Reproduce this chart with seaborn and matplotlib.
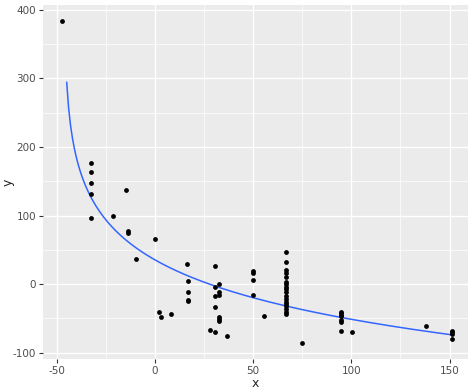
import numpy as np
import pandas as pd
import matplotlib
matplotlib.use("Agg")
import matplotlib.pyplot as plt
import seaborn as sns

# -------------------- data --------------------
x_vals = [-47.5,
          -32.6, -32.6, -32.6, -32.6, -32.6,
          -21.5, -14.8, -13.7, -13.7, -9.8,
          0.2, 2.2, 3.1, 8.0,
          16.5, 17, 17, 17, 17,
          27.8,
          30.7, 30.7, 30.7, 30.7, 30.7,
          32.7, 32.7, 32.7, 32.7, 32.7, 32.7,
          36.8,
          49.7, 49.7, 49.7, 49.7,
          55.6,
          66.7, 66.7, 66.7, 66.7, 66.7, 66.7, 66.7, 66.7, 66.7,
          66.7, 66.7, 66.7, 66.7, 66.7, 66.7, 66.7, 66.7, 66.7,
          74.6,
          94.5, 94.5, 94.5, 94.5, 94.5, 94.5, 94.5,
          100.1, 137.9,
          151, 151, 151, 151]
y_vals = [384,
          176, 163, 147, 132, 97,
          100, 137.5, 77, 75, 37,
          65.5, -41, -47.5, -44,
          30, 4.5, -11, -22.5, -24,
          -66.5,
          27, -4.5, -17, -34, -69.5,
          0.5, -11.5, -15.5, -48.5, -50.5, -53.5,
          -76,
          19.5, 16, 5.5, -15.5,
          -47,
          47.5, 33, 20, 16, 11, 3, 0, -3.5, -7.5,
          -11, -18, -21, -25.5, -28.5, -32.5, -36.5, -40, -43.5,
          -86,
          -40, -42.5, -45, -47, -52, -54.5, -68,
          -70.5, -61,
          -68, -70.5, -73, -80]

df = pd.DataFrame({"x": x_vals, "y": y_vals})

# log fit y ~ log(x + shift), like the smooth in the original
shift = 46.5
curve_start = -45
fit_df = df[df["x"] + shift > 0]
b, a = np.polyfit(np.log(fit_df["x"] + shift), fit_df["y"], 1)
curve_x = np.linspace(curve_start, df["x"].max(), 200)
curve = pd.DataFrame({"x": curve_x, "y": a + b * np.log(curve_x + shift)})

# -------------------- ggplot-ish look --------------------
sns.set_theme(style="darkgrid", rc={
    "axes.facecolor": "#EBEBEB",
    "grid.color": "white",
    "axes.edgecolor": "#EBEBEB",
    "xtick.color": "#4D4D4D",
    "ytick.color": "#4D4D4D",
    "xtick.labelcolor": "#4D4D4D",
    "ytick.labelcolor": "#4D4D4D",
    "xtick.bottom": True,
    "ytick.left": True,
    "axes.unicode_minus": False,
})

fig = plt.figure(figsize=(4.74, 3.9), dpi=100)
ax = fig.add_axes([0.091, 0.080, 0.896, 0.907])

sns.scatterplot(data=df, x="x", y="y", color="black", s=12, linewidth=0, ax=ax, zorder=3)
sns.lineplot(data=curve, x="x", y="y", color="#3366FF", linewidth=1.1, ax=ax, zorder=2)

ax.set_xlim(-57, 159.3)
ax.set_ylim(-108.9, 407)
ax.set_xticks([-50, 0, 50, 100, 150])
ax.set_yticks([-100, 0, 100, 200, 300, 400])
ax.set_xticks([-25, 25, 75, 125], minor=True)
ax.set_yticks([-50, 50, 150, 250, 350], minor=True)
ax.grid(which="major", color="white", linewidth=1.0)
ax.grid(which="minor", color="white", linewidth=0.5)
ax.tick_params(which="major", length=3, width=0.8, color="#333333", labelsize=7.5, pad=2)
ax.tick_params(which="minor", length=0)
ax.set_xlabel("x", fontsize=9, labelpad=1)
ax.set_ylabel("y", fontsize=9)
ax.yaxis.set_label_coords(-0.068, 0.5)
for s in ax.spines.values():
    s.set_visible(False)

fig.savefig("out.png", dpi=100)
